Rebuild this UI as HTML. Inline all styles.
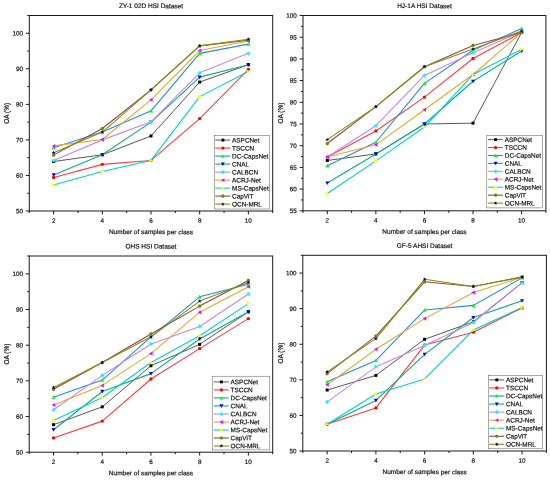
<!DOCTYPE html>
<html><head><meta charset="utf-8"><title>OA vs samples</title>
<style>html,body{margin:0;padding:0;background:#fff;}svg{display:block;filter:blur(0.3px)}text{stroke:#151515;stroke-width:0.2px;}</style></head>
<body>
<svg width="550" height="480" viewBox="0 0 550 480" font-family='"Liberation Sans", Arial, sans-serif' font-size="6.5" fill="#151515">
<g><polyline points="53.64,161.51 102.32,154.77 151.00,135.98 199.68,82.08 248.36,64.70" fill="none" stroke="#3a3a3a" stroke-width="0.85" stroke-linejoin="round"/>
<rect x="52.14" y="160.01" width="2.99" height="2.99" fill="#000000"/>
<rect x="100.82" y="153.28" width="2.99" height="2.99" fill="#000000"/>
<rect x="149.50" y="134.48" width="2.99" height="2.99" fill="#000000"/>
<rect x="198.18" y="80.58" width="2.99" height="2.99" fill="#000000"/>
<rect x="246.86" y="63.21" width="2.99" height="2.99" fill="#000000"/>
<polyline points="53.64,177.47 102.32,164.35 151.00,160.45 199.68,118.60 248.36,69.31" fill="none" stroke="#FF3B3B" stroke-width="1.1" stroke-linejoin="round"/>
<circle cx="53.64" cy="177.47" r="1.67" fill="#FF0000"/>
<circle cx="102.32" cy="164.35" r="1.67" fill="#FF0000"/>
<circle cx="151.00" cy="160.45" r="1.67" fill="#FF0000"/>
<circle cx="199.68" cy="118.60" r="1.67" fill="#FF0000"/>
<circle cx="248.36" cy="69.31" r="1.67" fill="#FF0000"/>
<polyline points="53.64,147.68 102.32,132.08 151.00,110.80 199.68,53.36 248.36,44.14" fill="none" stroke="#1E8CF0" stroke-width="1.1" stroke-linejoin="round"/>
<polygon points="53.64,145.66 51.62,149.30 55.66,149.30" fill="#00FF00"/>
<polygon points="102.32,130.05 100.30,133.70 104.34,133.70" fill="#00FF00"/>
<polygon points="151.00,108.78 148.98,112.42 153.02,112.42" fill="#00FF00"/>
<polygon points="199.68,51.33 197.66,54.98 201.70,54.98" fill="#00FF00"/>
<polygon points="248.36,42.11 246.34,45.76 250.38,45.76" fill="#00FF00"/>
<polyline points="53.64,174.99 102.32,154.77 151.00,122.15 199.68,77.12 248.36,64.70" fill="none" stroke="#0CB079" stroke-width="1.1" stroke-linejoin="round"/>
<polygon points="53.64,177.01 51.62,173.37 55.66,173.37" fill="#0000FF"/>
<polygon points="102.32,156.80 100.30,153.15 104.34,153.15" fill="#0000FF"/>
<polygon points="151.00,124.17 148.98,120.53 153.02,120.53" fill="#0000FF"/>
<polygon points="199.68,79.14 197.66,75.50 201.70,75.50" fill="#0000FF"/>
<polygon points="248.36,66.73 246.34,63.09 250.38,63.09" fill="#0000FF"/>
<polyline points="53.64,160.45 102.32,139.88 151.00,121.80 199.68,72.86 248.36,53.36" fill="none" stroke="#C985F7" stroke-width="1.1" stroke-linejoin="round"/>
<polygon points="53.64,158.33 55.75,160.45 53.64,162.56 51.53,160.45" fill="#00FFFF"/>
<polygon points="102.32,137.77 104.43,139.88 102.32,141.99 100.21,139.88" fill="#00FFFF"/>
<polygon points="151.00,119.68 153.11,121.80 151.00,123.91 148.89,121.80" fill="#00FFFF"/>
<polygon points="199.68,70.75 201.79,72.86 199.68,74.97 197.57,72.86" fill="#00FFFF"/>
<polygon points="248.36,51.25 250.47,53.36 248.36,55.47 246.25,53.36" fill="#00FFFF"/>
<polyline points="53.64,145.91 102.32,139.53 151.00,99.81 199.68,50.52 248.36,40.95" fill="none" stroke="#EBA528" stroke-width="1.1" stroke-linejoin="round"/>
<polygon points="51.62,145.91 55.26,143.88 55.26,147.93" fill="#FF00FF"/>
<polygon points="100.30,139.53 103.94,137.50 103.94,141.55" fill="#FF00FF"/>
<polygon points="148.98,99.81 152.62,97.79 152.62,101.83" fill="#FF00FF"/>
<polygon points="197.66,50.52 201.30,48.50 201.30,52.54" fill="#FF00FF"/>
<polygon points="246.34,40.95 249.98,38.92 249.98,42.97" fill="#FF00FF"/>
<polyline points="53.64,184.91 102.32,171.44 151.00,160.45 199.68,96.62 248.36,71.44" fill="none" stroke="#00D0D6" stroke-width="1.1" stroke-linejoin="round"/>
<polygon points="55.66,184.91 52.02,182.89 52.02,186.94" fill="#FFFF00"/>
<polygon points="104.34,171.44 100.70,169.42 100.70,173.46" fill="#FFFF00"/>
<polygon points="153.02,160.45 149.38,158.42 149.38,162.47" fill="#FFFF00"/>
<polygon points="201.70,96.62 198.06,94.59 198.06,98.64" fill="#FFFF00"/>
<polygon points="250.38,71.44 246.74,69.42 246.74,73.47" fill="#FFFF00"/>
<polyline points="53.64,155.13 102.32,128.53 151.00,89.88 199.68,45.91 248.36,40.24" fill="none" stroke="#8C4A4A" stroke-width="1.1" stroke-linejoin="round"/>
<polygon points="55.49,155.13 54.56,156.73 52.72,156.73 51.79,155.13 52.72,153.53 54.56,153.53" fill="#808000"/>
<polygon points="104.17,128.53 103.24,130.13 101.40,130.13 100.47,128.53 101.40,126.93 103.24,126.93" fill="#808000"/>
<polygon points="152.85,89.88 151.92,91.48 150.08,91.48 149.15,89.88 150.08,88.28 151.92,88.28" fill="#808000"/>
<polygon points="201.53,45.91 200.60,47.51 198.76,47.51 197.83,45.91 198.76,44.31 200.60,44.31" fill="#808000"/>
<polygon points="250.21,40.24 249.28,41.84 247.44,41.84 246.51,40.24 247.44,38.64 249.28,38.64" fill="#808000"/>
<polyline points="53.64,152.65 102.32,132.08 151.00,89.88 199.68,45.91 248.36,39.17" fill="none" stroke="#8C8C00" stroke-width="1.1" stroke-linejoin="round"/>
<polygon points="53.64,150.62 54.16,151.93 55.56,152.02 54.48,152.92 54.83,154.28 53.64,153.53 52.45,154.28 52.80,152.92 51.72,152.02 53.12,151.93" fill="#000080"/>
<polygon points="102.32,130.05 102.84,131.37 104.24,131.45 103.16,132.35 103.51,133.72 102.32,132.96 101.13,133.72 101.48,132.35 100.40,131.45 101.80,131.37" fill="#000080"/>
<polygon points="151.00,87.86 151.52,89.17 152.92,89.26 151.84,90.15 152.19,91.52 151.00,90.76 149.81,91.52 150.16,90.15 149.08,89.26 150.48,89.17" fill="#000080"/>
<polygon points="199.68,43.89 200.20,45.20 201.60,45.29 200.52,46.18 200.87,47.55 199.68,46.79 198.49,47.55 198.84,46.18 197.76,45.29 199.16,45.20" fill="#000080"/>
<polygon points="248.36,37.15 248.88,38.46 250.28,38.55 249.20,39.45 249.55,40.81 248.36,40.05 247.17,40.81 247.52,39.45 246.44,38.55 247.84,38.46" fill="#000080"/>
<rect x="29.3" y="15.5" width="243.40" height="195.50" fill="none" stroke="#1a1a1a" stroke-width="1"/>
<text transform="translate(23.10 213.25) rotate(0.1)" text-anchor="end" font-size="6.3">50</text>
<text transform="translate(23.10 177.70) rotate(0.1)" text-anchor="end" font-size="6.3">60</text>
<text transform="translate(23.10 142.16) rotate(0.1)" text-anchor="end" font-size="6.3">70</text>
<text transform="translate(23.10 106.61) rotate(0.1)" text-anchor="end" font-size="6.3">80</text>
<text transform="translate(23.10 71.07) rotate(0.1)" text-anchor="end" font-size="6.3">90</text>
<text transform="translate(23.10 35.52) rotate(0.1)" text-anchor="end" font-size="6.3">100</text>
<text transform="translate(53.64 222.75) rotate(0.1)" text-anchor="middle" font-size="6.3">2</text>
<text transform="translate(102.32 222.75) rotate(0.1)" text-anchor="middle" font-size="6.3">4</text>
<text transform="translate(151.00 222.75) rotate(0.1)" text-anchor="middle" font-size="6.3">6</text>
<text transform="translate(199.68 222.75) rotate(0.1)" text-anchor="middle" font-size="6.3">8</text>
<text transform="translate(248.36 222.75) rotate(0.1)" text-anchor="middle" font-size="6.3">10</text>
<path d="M29.30 211.00h-3.4 M29.30 193.23h-2.0 M29.30 175.45h-3.4 M29.30 157.68h-2.0 M29.30 139.91h-3.4 M29.30 122.14h-2.0 M29.30 104.36h-3.4 M29.30 86.59h-2.0 M29.30 68.82h-3.4 M29.30 51.05h-2.0 M29.30 33.27h-3.4 M29.30 15.50h-2.0 M29.30 211.00v2.0 M53.64 211.00v3.4 M77.98 211.00v2.0 M102.32 211.00v3.4 M126.66 211.00v2.0 M151.00 211.00v3.4 M175.34 211.00v2.0 M199.68 211.00v3.4 M224.02 211.00v2.0 M248.36 211.00v3.4 M272.70 211.00v2.0" stroke="#1a1a1a" stroke-width="1" fill="none"/>
<text transform="translate(151.00 8.10) rotate(0.1)" text-anchor="middle">ZY-1 02D HSI Dataset</text>
<text transform="translate(151.00 234.10) rotate(0.1)" text-anchor="middle">Number of samples per class</text>
<text transform="translate(9.30 113.25) rotate(-90)" text-anchor="middle">OA (%)</text>
<rect x="214.30" y="135.30" width="55.30" height="73.70" fill="#fff" stroke="#555" stroke-width="0.5"/>
<path d="M215.30 140.10h14.9" stroke="#3a3a3a" stroke-width="0.85"/>
<rect x="221.46" y="138.66" width="2.89" height="2.89" fill="#000000"/>
<text transform="translate(232.10 142.40) rotate(0.1)" font-size="6.4">ASPCNet</text>
<path d="M215.30 148.10h14.9" stroke="#FF3B3B" stroke-width="1.1"/>
<circle cx="222.90" cy="148.10" r="1.61" fill="#FF0000"/>
<text transform="translate(232.10 150.40) rotate(0.1)" font-size="6.4">TSCCN</text>
<path d="M215.30 156.10h14.9" stroke="#1E8CF0" stroke-width="1.1"/>
<polygon points="222.90,154.14 220.94,157.66 224.86,157.66" fill="#00FF00"/>
<text transform="translate(232.10 158.40) rotate(0.1)" font-size="6.4">DC-CapsNet</text>
<path d="M215.30 164.10h14.9" stroke="#0CB079" stroke-width="1.1"/>
<polygon points="222.90,166.06 220.94,162.54 224.86,162.54" fill="#0000FF"/>
<text transform="translate(232.10 166.40) rotate(0.1)" font-size="6.4">CNAL</text>
<path d="M215.30 172.10h14.9" stroke="#C985F7" stroke-width="1.1"/>
<polygon points="222.90,170.06 224.94,172.10 222.90,174.14 220.86,172.10" fill="#00FFFF"/>
<text transform="translate(232.10 174.40) rotate(0.1)" font-size="6.4">CALBCN</text>
<path d="M215.30 180.10h14.9" stroke="#EBA528" stroke-width="1.1"/>
<polygon points="220.94,180.10 224.46,178.14 224.46,182.06" fill="#FF00FF"/>
<text transform="translate(232.10 182.40) rotate(0.1)" font-size="6.4">ACRJ-Net</text>
<path d="M215.30 188.10h14.9" stroke="#00D0D6" stroke-width="1.1"/>
<polygon points="224.86,188.10 221.34,186.14 221.34,190.06" fill="#FFFF00"/>
<text transform="translate(232.10 190.40) rotate(0.1)" font-size="6.4">MS-CapsNet</text>
<path d="M215.30 196.10h14.9" stroke="#8C4A4A" stroke-width="1.1"/>
<polygon points="224.69,196.10 223.79,197.65 222.01,197.65 221.12,196.10 222.01,194.55 223.79,194.55" fill="#808000"/>
<text transform="translate(232.10 198.40) rotate(0.1)" font-size="6.4">CapViT</text>
<path d="M215.30 204.10h14.9" stroke="#8C8C00" stroke-width="1.1"/>
<polygon points="222.90,202.14 223.40,203.41 224.76,203.50 223.71,204.36 224.05,205.68 222.90,204.95 221.75,205.68 222.09,204.36 221.04,203.50 222.40,203.41" fill="#000080"/>
<text transform="translate(232.10 206.40) rotate(0.1)" font-size="6.4">OCN-MRL</text></g>
<g><polyline points="327.29,160.46 375.87,153.95 424.45,124.00 473.03,123.13 521.61,32.43" fill="none" stroke="#3a3a3a" stroke-width="0.85" stroke-linejoin="round"/>
<rect x="325.79" y="158.96" width="2.99" height="2.99" fill="#000000"/>
<rect x="374.37" y="152.45" width="2.99" height="2.99" fill="#000000"/>
<rect x="422.95" y="122.50" width="2.99" height="2.99" fill="#000000"/>
<rect x="471.53" y="121.64" width="2.99" height="2.99" fill="#000000"/>
<rect x="520.11" y="30.93" width="2.99" height="2.99" fill="#000000"/>
<polyline points="327.29,156.98 375.87,130.94 424.45,97.09 473.03,58.47 521.61,32.43" fill="none" stroke="#FF3B3B" stroke-width="1.1" stroke-linejoin="round"/>
<circle cx="327.29" cy="156.98" r="1.67" fill="#FF0000"/>
<circle cx="375.87" cy="130.94" r="1.67" fill="#FF0000"/>
<circle cx="424.45" cy="97.09" r="1.67" fill="#FF0000"/>
<circle cx="473.03" cy="58.47" r="1.67" fill="#FF0000"/>
<circle cx="521.61" cy="32.43" r="1.67" fill="#FF0000"/>
<polyline points="327.29,165.66 375.87,142.23 424.45,83.42 473.03,50.22 521.61,28.52" fill="none" stroke="#1E8CF0" stroke-width="1.1" stroke-linejoin="round"/>
<polygon points="327.29,163.64 325.27,167.28 329.31,167.28" fill="#00FF00"/>
<polygon points="375.87,140.20 373.85,143.85 377.89,143.85" fill="#00FF00"/>
<polygon points="424.45,81.40 422.43,85.04 426.47,85.04" fill="#00FF00"/>
<polygon points="473.03,48.20 471.01,51.84 475.05,51.84" fill="#00FF00"/>
<polygon points="521.61,26.50 519.59,30.14 523.63,30.14" fill="#00FF00"/>
<polyline points="327.29,183.02 375.87,153.95 424.45,124.00 473.03,81.25 521.61,51.09" fill="none" stroke="#0CB079" stroke-width="1.1" stroke-linejoin="round"/>
<polygon points="327.29,185.05 325.27,181.40 329.31,181.40" fill="#0000FF"/>
<polygon points="375.87,155.97 373.85,152.33 377.89,152.33" fill="#0000FF"/>
<polygon points="424.45,126.02 422.43,122.38 426.47,122.38" fill="#0000FF"/>
<polygon points="473.03,83.28 471.01,79.63 475.05,79.63" fill="#0000FF"/>
<polygon points="521.61,53.11 519.59,49.47 523.63,49.47" fill="#0000FF"/>
<polyline points="327.29,156.98 375.87,125.74 424.45,75.39 473.03,52.82 521.61,31.56" fill="none" stroke="#C985F7" stroke-width="1.1" stroke-linejoin="round"/>
<polygon points="327.29,154.87 329.40,156.98 327.29,159.10 325.18,156.98" fill="#00FFFF"/>
<polygon points="375.87,123.62 377.98,125.74 375.87,127.85 373.76,125.74" fill="#00FFFF"/>
<polygon points="424.45,73.28 426.56,75.39 424.45,77.50 422.34,75.39" fill="#00FFFF"/>
<polygon points="473.03,50.71 475.14,52.82 473.03,54.94 470.92,52.82" fill="#00FFFF"/>
<polygon points="521.61,29.45 523.72,31.56 521.61,33.67 519.50,31.56" fill="#00FFFF"/>
<polyline points="327.29,156.98 375.87,144.83 424.45,109.68 473.03,74.52 521.61,32.43" fill="none" stroke="#EBA528" stroke-width="1.1" stroke-linejoin="round"/>
<polygon points="325.27,156.98 328.91,154.96 328.91,159.01" fill="#FF00FF"/>
<polygon points="373.85,144.83 377.49,142.81 377.49,146.86" fill="#FF00FF"/>
<polygon points="422.43,109.68 426.07,107.65 426.07,111.70" fill="#FF00FF"/>
<polygon points="471.01,74.52 474.65,72.50 474.65,76.55" fill="#FF00FF"/>
<polygon points="519.59,32.43 523.23,30.40 523.23,34.45" fill="#FF00FF"/>
<polyline points="327.29,193.44 375.87,160.89 424.45,127.04 473.03,74.52 521.61,49.35" fill="none" stroke="#00D0D6" stroke-width="1.1" stroke-linejoin="round"/>
<polygon points="329.31,193.44 325.67,191.42 325.67,195.46" fill="#FFFF00"/>
<polygon points="377.89,160.89 374.25,158.87 374.25,162.91" fill="#FFFF00"/>
<polygon points="426.47,127.04 422.83,125.01 422.83,129.06" fill="#FFFF00"/>
<polygon points="475.05,74.52 471.41,72.50 471.41,76.55" fill="#FFFF00"/>
<polygon points="523.63,49.35 519.99,47.33 519.99,51.38" fill="#FFFF00"/>
<polyline points="327.29,143.53 375.87,106.64 424.45,66.71 473.03,45.45 521.61,32.43" fill="none" stroke="#8C4A4A" stroke-width="1.1" stroke-linejoin="round"/>
<polygon points="329.14,143.53 328.21,145.13 326.37,145.13 325.44,143.53 326.37,141.93 328.21,141.93" fill="#808000"/>
<polygon points="377.72,106.64 376.79,108.24 374.95,108.24 374.02,106.64 374.95,105.04 376.79,105.04" fill="#808000"/>
<polygon points="426.30,66.71 425.37,68.31 423.53,68.31 422.60,66.71 423.53,65.11 425.37,65.11" fill="#808000"/>
<polygon points="474.88,45.45 473.95,47.05 472.11,47.05 471.18,45.45 472.11,43.85 473.95,43.85" fill="#808000"/>
<polygon points="523.46,32.43 522.53,34.03 520.69,34.03 519.76,32.43 520.69,30.83 522.53,30.83" fill="#808000"/>
<polyline points="327.29,139.62 375.87,106.64 424.45,66.71 473.03,48.92 521.61,31.12" fill="none" stroke="#8C8C00" stroke-width="1.1" stroke-linejoin="round"/>
<polygon points="327.29,137.60 327.81,138.91 329.21,139.00 328.13,139.90 328.48,141.26 327.29,140.50 326.10,141.26 326.45,139.90 325.37,139.00 326.77,138.91" fill="#000080"/>
<polygon points="375.87,104.62 376.39,105.93 377.79,106.01 376.71,106.91 377.06,108.28 375.87,107.52 374.68,108.28 375.03,106.91 373.95,106.01 375.35,105.93" fill="#000080"/>
<polygon points="424.45,64.69 424.97,66.00 426.37,66.09 425.29,66.98 425.64,68.35 424.45,67.59 423.26,68.35 423.61,66.98 422.53,66.09 423.93,66.00" fill="#000080"/>
<polygon points="473.03,46.89 473.55,48.21 474.95,48.29 473.87,49.19 474.22,50.56 473.03,49.80 471.84,50.56 472.19,49.19 471.11,48.29 472.51,48.21" fill="#000080"/>
<polygon points="521.61,29.10 522.13,30.41 523.53,30.50 522.45,31.40 522.80,32.76 521.61,32.00 520.42,32.76 520.77,31.40 519.69,30.50 521.09,30.41" fill="#000080"/>
<rect x="303.0" y="15.5" width="242.90" height="195.30" fill="none" stroke="#1a1a1a" stroke-width="1"/>
<text transform="translate(296.80 213.05) rotate(0.1)" text-anchor="end" font-size="6.3">55</text>
<text transform="translate(296.80 191.35) rotate(0.1)" text-anchor="end" font-size="6.3">60</text>
<text transform="translate(296.80 169.65) rotate(0.1)" text-anchor="end" font-size="6.3">65</text>
<text transform="translate(296.80 147.95) rotate(0.1)" text-anchor="end" font-size="6.3">70</text>
<text transform="translate(296.80 126.25) rotate(0.1)" text-anchor="end" font-size="6.3">75</text>
<text transform="translate(296.80 104.55) rotate(0.1)" text-anchor="end" font-size="6.3">80</text>
<text transform="translate(296.80 82.85) rotate(0.1)" text-anchor="end" font-size="6.3">85</text>
<text transform="translate(296.80 61.15) rotate(0.1)" text-anchor="end" font-size="6.3">90</text>
<text transform="translate(296.80 39.45) rotate(0.1)" text-anchor="end" font-size="6.3">95</text>
<text transform="translate(296.80 17.75) rotate(0.1)" text-anchor="end" font-size="6.3">100</text>
<text transform="translate(327.29 222.55) rotate(0.1)" text-anchor="middle" font-size="6.3">2</text>
<text transform="translate(375.87 222.55) rotate(0.1)" text-anchor="middle" font-size="6.3">4</text>
<text transform="translate(424.45 222.55) rotate(0.1)" text-anchor="middle" font-size="6.3">6</text>
<text transform="translate(473.03 222.55) rotate(0.1)" text-anchor="middle" font-size="6.3">8</text>
<text transform="translate(521.61 222.55) rotate(0.1)" text-anchor="middle" font-size="6.3">10</text>
<path d="M303.00 210.80h-3.4 M303.00 199.95h-2.0 M303.00 189.10h-3.4 M303.00 178.25h-2.0 M303.00 167.40h-3.4 M303.00 156.55h-2.0 M303.00 145.70h-3.4 M303.00 134.85h-2.0 M303.00 124.00h-3.4 M303.00 113.15h-2.0 M303.00 102.30h-3.4 M303.00 91.45h-2.0 M303.00 80.60h-3.4 M303.00 69.75h-2.0 M303.00 58.90h-3.4 M303.00 48.05h-2.0 M303.00 37.20h-3.4 M303.00 26.35h-2.0 M303.00 15.50h-3.4 M303.00 210.80v2.0 M327.29 210.80v3.4 M351.58 210.80v2.0 M375.87 210.80v3.4 M400.16 210.80v2.0 M424.45 210.80v3.4 M448.74 210.80v2.0 M473.03 210.80v3.4 M497.32 210.80v2.0 M521.61 210.80v3.4 M545.90 210.80v2.0" stroke="#1a1a1a" stroke-width="1" fill="none"/>
<text transform="translate(424.45 8.10) rotate(0.1)" text-anchor="middle">HJ-1A HSI Dataset</text>
<text transform="translate(424.45 233.90) rotate(0.1)" text-anchor="middle">Number of samples per class</text>
<text transform="translate(283.00 113.15) rotate(-90)" text-anchor="middle">OA (%)</text>
<rect x="486.80" y="135.30" width="55.60" height="72.60" fill="#fff" stroke="#555" stroke-width="0.5"/>
<path d="M488.00 139.60h14.9" stroke="#3a3a3a" stroke-width="0.85"/>
<rect x="494.16" y="138.16" width="2.89" height="2.89" fill="#000000"/>
<text transform="translate(504.80 141.90) rotate(0.1)" font-size="6.4">ASPCNet</text>
<path d="M488.00 147.54h14.9" stroke="#FF3B3B" stroke-width="1.1"/>
<circle cx="495.60" cy="147.54" r="1.61" fill="#FF0000"/>
<text transform="translate(504.80 149.84) rotate(0.1)" font-size="6.4">TSCCN</text>
<path d="M488.00 155.47h14.9" stroke="#1E8CF0" stroke-width="1.1"/>
<polygon points="495.60,153.52 493.65,157.04 497.56,157.04" fill="#00FF00"/>
<text transform="translate(504.80 157.78) rotate(0.1)" font-size="6.4">DC-CapsNet</text>
<path d="M488.00 163.41h14.9" stroke="#0CB079" stroke-width="1.1"/>
<polygon points="495.60,165.37 493.65,161.85 497.56,161.85" fill="#0000FF"/>
<text transform="translate(504.80 165.71) rotate(0.1)" font-size="6.4">CNAL</text>
<path d="M488.00 171.35h14.9" stroke="#C985F7" stroke-width="1.1"/>
<polygon points="495.60,169.31 497.64,171.35 495.60,173.39 493.56,171.35" fill="#00FFFF"/>
<text transform="translate(504.80 173.65) rotate(0.1)" font-size="6.4">CALBCN</text>
<path d="M488.00 179.29h14.9" stroke="#EBA528" stroke-width="1.1"/>
<polygon points="493.65,179.29 497.16,177.33 497.16,181.24" fill="#FF00FF"/>
<text transform="translate(504.80 181.59) rotate(0.1)" font-size="6.4">ACRJ-Net</text>
<path d="M488.00 187.22h14.9" stroke="#00D0D6" stroke-width="1.1"/>
<polygon points="497.56,187.22 494.04,185.27 494.04,189.18" fill="#FFFF00"/>
<text transform="translate(504.80 189.53) rotate(0.1)" font-size="6.4">MS-CapsNet</text>
<path d="M488.00 195.16h14.9" stroke="#8C4A4A" stroke-width="1.1"/>
<polygon points="497.39,195.16 496.49,196.71 494.71,196.71 493.81,195.16 494.71,193.62 496.49,193.62" fill="#808000"/>
<text transform="translate(504.80 197.46) rotate(0.1)" font-size="6.4">CapViT</text>
<path d="M488.00 203.10h14.9" stroke="#8C8C00" stroke-width="1.1"/>
<polygon points="495.60,201.14 496.10,202.41 497.46,202.50 496.41,203.36 496.75,204.68 495.60,203.95 494.45,204.68 494.79,203.36 493.74,202.50 495.10,202.41" fill="#000080"/>
<text transform="translate(504.80 205.40) rotate(0.1)" font-size="6.4">OCN-MRL</text></g>
<g><polyline points="53.55,424.70 102.25,406.84 150.95,365.76 199.65,344.33 248.35,311.82" fill="none" stroke="#3a3a3a" stroke-width="0.85" stroke-linejoin="round"/>
<rect x="52.05" y="423.20" width="2.99" height="2.99" fill="#000000"/>
<rect x="100.75" y="405.34" width="2.99" height="2.99" fill="#000000"/>
<rect x="149.45" y="364.26" width="2.99" height="2.99" fill="#000000"/>
<rect x="198.15" y="342.83" width="2.99" height="2.99" fill="#000000"/>
<rect x="246.85" y="310.32" width="2.99" height="2.99" fill="#000000"/>
<polyline points="53.55,437.91 102.25,421.12 150.95,378.97 199.65,348.61 248.35,318.61" fill="none" stroke="#FF3B3B" stroke-width="1.1" stroke-linejoin="round"/>
<circle cx="53.55" cy="437.91" r="1.67" fill="#FF0000"/>
<circle cx="102.25" cy="421.12" r="1.67" fill="#FF0000"/>
<circle cx="150.95" cy="378.97" r="1.67" fill="#FF0000"/>
<circle cx="199.65" cy="348.61" r="1.67" fill="#FF0000"/>
<circle cx="248.35" cy="318.61" r="1.67" fill="#FF0000"/>
<polyline points="53.55,397.19 102.25,380.05 150.95,336.82 199.65,296.82 248.35,284.32" fill="none" stroke="#1E8CF0" stroke-width="1.1" stroke-linejoin="round"/>
<polygon points="53.55,395.17 51.53,398.81 55.57,398.81" fill="#00FF00"/>
<polygon points="102.25,378.02 100.23,381.66 104.27,381.66" fill="#00FF00"/>
<polygon points="150.95,334.80 148.93,338.44 152.97,338.44" fill="#00FF00"/>
<polygon points="199.65,294.79 197.63,298.44 201.67,298.44" fill="#00FF00"/>
<polygon points="248.35,282.29 246.33,285.94 250.37,285.94" fill="#00FF00"/>
<polyline points="53.55,429.70 102.25,391.48 150.95,373.62 199.65,338.97 248.35,311.82" fill="none" stroke="#0CB079" stroke-width="1.1" stroke-linejoin="round"/>
<polygon points="53.55,431.72 51.53,428.08 55.57,428.08" fill="#0000FF"/>
<polygon points="102.25,393.50 100.23,389.86 104.27,389.86" fill="#0000FF"/>
<polygon points="150.95,375.64 148.93,372.00 152.97,372.00" fill="#0000FF"/>
<polygon points="199.65,340.99 197.63,337.35 201.67,337.35" fill="#0000FF"/>
<polygon points="248.35,313.84 246.33,310.20 250.37,310.20" fill="#0000FF"/>
<polyline points="53.55,409.69 102.25,375.40 150.95,343.97 199.65,326.47 248.35,293.96" fill="none" stroke="#C985F7" stroke-width="1.1" stroke-linejoin="round"/>
<polygon points="53.55,407.58 55.66,409.69 53.55,411.81 51.44,409.69" fill="#00FFFF"/>
<polygon points="102.25,373.29 104.36,375.40 102.25,377.51 100.14,375.40" fill="#00FFFF"/>
<polygon points="150.95,341.86 153.06,343.97 150.95,346.08 148.84,343.97" fill="#00FFFF"/>
<polygon points="199.65,324.35 201.76,326.47 199.65,328.58 197.54,326.47" fill="#00FFFF"/>
<polygon points="248.35,291.85 250.46,293.96 248.35,296.07 246.24,293.96" fill="#00FFFF"/>
<polyline points="53.55,405.05 102.25,385.40 150.95,353.61 199.65,312.18 248.35,286.82" fill="none" stroke="#EBA528" stroke-width="1.1" stroke-linejoin="round"/>
<polygon points="51.53,405.05 55.17,403.03 55.17,407.07" fill="#FF00FF"/>
<polygon points="100.23,385.40 103.87,383.38 103.87,387.43" fill="#FF00FF"/>
<polygon points="148.93,353.61 152.57,351.59 152.57,355.64" fill="#FF00FF"/>
<polygon points="197.63,312.18 201.27,310.15 201.27,314.20" fill="#FF00FF"/>
<polygon points="246.33,286.82 249.97,284.79 249.97,288.84" fill="#FF00FF"/>
<polyline points="53.55,420.41 102.25,397.55 150.95,362.54 199.65,335.75 248.35,303.60" fill="none" stroke="#00D0D6" stroke-width="1.1" stroke-linejoin="round"/>
<polygon points="55.57,420.41 51.93,418.39 51.93,422.43" fill="#FFFF00"/>
<polygon points="104.27,397.55 100.63,395.52 100.63,399.57" fill="#FFFF00"/>
<polygon points="152.97,362.54 149.33,360.52 149.33,364.57" fill="#FFFF00"/>
<polygon points="201.67,335.75 198.03,333.73 198.03,337.78" fill="#FFFF00"/>
<polygon points="250.37,303.60 246.73,301.58 246.73,305.63" fill="#FFFF00"/>
<polyline points="53.55,389.33 102.25,362.54 150.95,333.97 199.65,306.11 248.35,280.39" fill="none" stroke="#8C4A4A" stroke-width="1.1" stroke-linejoin="round"/>
<polygon points="55.40,389.33 54.47,390.93 52.63,390.93 51.70,389.33 52.63,387.73 54.47,387.73" fill="#808000"/>
<polygon points="104.10,362.54 103.17,364.14 101.33,364.14 100.40,362.54 101.33,360.94 103.17,360.94" fill="#808000"/>
<polygon points="152.80,333.97 151.87,335.57 150.03,335.57 149.10,333.97 150.03,332.37 151.87,332.37" fill="#808000"/>
<polygon points="201.50,306.11 200.57,307.71 198.73,307.71 197.80,306.11 198.73,304.50 200.57,304.50" fill="#808000"/>
<polygon points="250.20,280.39 249.27,281.99 247.43,281.99 246.50,280.39 247.43,278.79 249.27,278.79" fill="#808000"/>
<polyline points="53.55,387.55 102.25,362.54 150.95,336.82 199.65,301.10 248.35,282.53" fill="none" stroke="#8C8C00" stroke-width="1.1" stroke-linejoin="round"/>
<polygon points="53.55,385.52 54.07,386.83 55.47,386.92 54.39,387.82 54.74,389.18 53.55,388.43 52.36,389.18 52.71,387.82 51.63,386.92 53.03,386.83" fill="#000080"/>
<polygon points="102.25,360.52 102.77,361.83 104.17,361.92 103.09,362.81 103.44,364.18 102.25,363.42 101.06,364.18 101.41,362.81 100.33,361.92 101.73,361.83" fill="#000080"/>
<polygon points="150.95,334.80 151.47,336.11 152.87,336.20 151.79,337.10 152.14,338.46 150.95,337.70 149.76,338.46 150.11,337.10 149.03,336.20 150.43,336.11" fill="#000080"/>
<polygon points="199.65,299.08 200.17,300.39 201.57,300.48 200.49,301.38 200.84,302.74 199.65,301.98 198.46,302.74 198.81,301.38 197.73,300.48 199.13,300.39" fill="#000080"/>
<polygon points="248.35,280.51 248.87,281.82 250.27,281.90 249.19,282.80 249.54,284.17 248.35,283.41 247.16,284.17 247.51,282.80 246.43,281.90 247.83,281.82" fill="#000080"/>
<rect x="29.2" y="256.0" width="243.50" height="196.20" fill="none" stroke="#1a1a1a" stroke-width="1"/>
<text transform="translate(23.00 454.45) rotate(0.1)" text-anchor="end" font-size="6.3">50</text>
<text transform="translate(23.00 418.78) rotate(0.1)" text-anchor="end" font-size="6.3">60</text>
<text transform="translate(23.00 383.10) rotate(0.1)" text-anchor="end" font-size="6.3">70</text>
<text transform="translate(23.00 347.43) rotate(0.1)" text-anchor="end" font-size="6.3">80</text>
<text transform="translate(23.00 311.76) rotate(0.1)" text-anchor="end" font-size="6.3">90</text>
<text transform="translate(23.00 276.09) rotate(0.1)" text-anchor="end" font-size="6.3">100</text>
<text transform="translate(53.55 463.95) rotate(0.1)" text-anchor="middle" font-size="6.3">2</text>
<text transform="translate(102.25 463.95) rotate(0.1)" text-anchor="middle" font-size="6.3">4</text>
<text transform="translate(150.95 463.95) rotate(0.1)" text-anchor="middle" font-size="6.3">6</text>
<text transform="translate(199.65 463.95) rotate(0.1)" text-anchor="middle" font-size="6.3">8</text>
<text transform="translate(248.35 463.95) rotate(0.1)" text-anchor="middle" font-size="6.3">10</text>
<path d="M29.20 452.20h-3.4 M29.20 434.36h-2.0 M29.20 416.53h-3.4 M29.20 398.69h-2.0 M29.20 380.85h-3.4 M29.20 363.02h-2.0 M29.20 345.18h-3.4 M29.20 327.35h-2.0 M29.20 309.51h-3.4 M29.20 291.67h-2.0 M29.20 273.84h-3.4 M29.20 256.00h-2.0 M29.20 452.20v2.0 M53.55 452.20v3.4 M77.90 452.20v2.0 M102.25 452.20v3.4 M126.60 452.20v2.0 M150.95 452.20v3.4 M175.30 452.20v2.0 M199.65 452.20v3.4 M224.00 452.20v2.0 M248.35 452.20v3.4 M272.70 452.20v2.0" stroke="#1a1a1a" stroke-width="1" fill="none"/>
<text transform="translate(150.95 248.60) rotate(0.1)" text-anchor="middle">OHS HSI Dataset</text>
<text transform="translate(150.95 475.30) rotate(0.1)" text-anchor="middle">Number of samples per class</text>
<text transform="translate(9.20 354.10) rotate(-90)" text-anchor="middle">OA (%)</text>
<rect x="212.20" y="376.20" width="57.60" height="73.70" fill="#fff" stroke="#555" stroke-width="0.5"/>
<path d="M213.80 381.90h14.9" stroke="#3a3a3a" stroke-width="0.85"/>
<rect x="219.96" y="380.45" width="2.89" height="2.89" fill="#000000"/>
<text transform="translate(230.60 384.20) rotate(0.1)" font-size="6.4">ASPCNet</text>
<path d="M213.80 389.91h14.9" stroke="#FF3B3B" stroke-width="1.1"/>
<circle cx="221.40" cy="389.91" r="1.61" fill="#FF0000"/>
<text transform="translate(230.60 392.21) rotate(0.1)" font-size="6.4">TSCCN</text>
<path d="M213.80 397.92h14.9" stroke="#1E8CF0" stroke-width="1.1"/>
<polygon points="221.40,395.97 219.44,399.49 223.36,399.49" fill="#00FF00"/>
<text transform="translate(230.60 400.22) rotate(0.1)" font-size="6.4">DC-CapsNet</text>
<path d="M213.80 405.94h14.9" stroke="#0CB079" stroke-width="1.1"/>
<polygon points="221.40,407.89 219.44,404.37 223.36,404.37" fill="#0000FF"/>
<text transform="translate(230.60 408.24) rotate(0.1)" font-size="6.4">CNAL</text>
<path d="M213.80 413.95h14.9" stroke="#C985F7" stroke-width="1.1"/>
<polygon points="221.40,411.91 223.44,413.95 221.40,415.99 219.36,413.95" fill="#00FFFF"/>
<text transform="translate(230.60 416.25) rotate(0.1)" font-size="6.4">CALBCN</text>
<path d="M213.80 421.96h14.9" stroke="#EBA528" stroke-width="1.1"/>
<polygon points="219.44,421.96 222.96,420.01 222.96,423.92" fill="#FF00FF"/>
<text transform="translate(230.60 424.26) rotate(0.1)" font-size="6.4">ACRJ-Net</text>
<path d="M213.80 429.98h14.9" stroke="#00D0D6" stroke-width="1.1"/>
<polygon points="223.36,429.98 219.84,428.02 219.84,431.93" fill="#FFFF00"/>
<text transform="translate(230.60 432.28) rotate(0.1)" font-size="6.4">MS-CapsNet</text>
<path d="M213.80 437.99h14.9" stroke="#8C4A4A" stroke-width="1.1"/>
<polygon points="223.19,437.99 222.29,439.53 220.51,439.53 219.62,437.99 220.51,436.44 222.29,436.44" fill="#808000"/>
<text transform="translate(230.60 440.29) rotate(0.1)" font-size="6.4">CapViT</text>
<path d="M213.80 446.00h14.9" stroke="#8C8C00" stroke-width="1.1"/>
<polygon points="221.40,444.05 221.90,445.31 223.26,445.40 222.21,446.26 222.55,447.58 221.40,446.85 220.25,447.58 220.59,446.26 219.54,445.40 220.90,445.31" fill="#000080"/>
<text transform="translate(230.60 448.30) rotate(0.1)" font-size="6.4">OCN-MRL</text></g>
<g><polyline points="327.16,390.05 375.88,375.40 424.60,339.32 473.32,321.82 522.04,282.53" fill="none" stroke="#3a3a3a" stroke-width="0.85" stroke-linejoin="round"/>
<rect x="325.66" y="388.55" width="2.99" height="2.99" fill="#000000"/>
<rect x="374.38" y="373.91" width="2.99" height="2.99" fill="#000000"/>
<rect x="423.10" y="337.83" width="2.99" height="2.99" fill="#000000"/>
<rect x="471.82" y="320.33" width="2.99" height="2.99" fill="#000000"/>
<rect x="520.54" y="281.03" width="2.99" height="2.99" fill="#000000"/>
<polyline points="327.16,424.34 375.88,407.91 424.60,345.04 473.32,332.18 522.04,307.89" fill="none" stroke="#FF3B3B" stroke-width="1.1" stroke-linejoin="round"/>
<circle cx="327.16" cy="424.34" r="1.67" fill="#FF0000"/>
<circle cx="375.88" cy="407.91" r="1.67" fill="#FF0000"/>
<circle cx="424.60" cy="345.04" r="1.67" fill="#FF0000"/>
<circle cx="473.32" cy="332.18" r="1.67" fill="#FF0000"/>
<circle cx="522.04" cy="307.89" r="1.67" fill="#FF0000"/>
<polyline points="327.16,381.83 375.88,360.40 424.60,310.03 473.32,305.39 522.04,277.89" fill="none" stroke="#1E8CF0" stroke-width="1.1" stroke-linejoin="round"/>
<polygon points="327.16,379.81 325.14,383.45 329.18,383.45" fill="#00FF00"/>
<polygon points="375.88,358.38 373.86,362.02 377.90,362.02" fill="#00FF00"/>
<polygon points="424.60,308.01 422.58,311.65 426.62,311.65" fill="#00FF00"/>
<polygon points="473.32,303.37 471.30,307.01 475.34,307.01" fill="#00FF00"/>
<polygon points="522.04,275.86 520.02,279.51 524.06,279.51" fill="#00FF00"/>
<polyline points="327.16,424.34 375.88,400.41 424.60,354.33 473.32,317.54 522.04,300.75" fill="none" stroke="#0CB079" stroke-width="1.1" stroke-linejoin="round"/>
<polygon points="327.16,426.36 325.14,422.72 329.18,422.72" fill="#0000FF"/>
<polygon points="375.88,402.43 373.86,398.79 377.90,398.79" fill="#0000FF"/>
<polygon points="424.60,356.35 422.58,352.71 426.62,352.71" fill="#0000FF"/>
<polygon points="473.32,319.56 471.30,315.92 475.34,315.92" fill="#0000FF"/>
<polygon points="522.04,302.77 520.02,299.13 524.06,299.13" fill="#0000FF"/>
<polyline points="327.16,401.83 375.88,366.83 424.60,345.40 473.32,322.54 522.04,282.89" fill="none" stroke="#C985F7" stroke-width="1.1" stroke-linejoin="round"/>
<polygon points="327.16,399.72 329.27,401.83 327.16,403.95 325.05,401.83" fill="#00FFFF"/>
<polygon points="375.88,364.72 377.99,366.83 375.88,368.94 373.77,366.83" fill="#00FFFF"/>
<polygon points="424.60,343.29 426.71,345.40 424.60,347.51 422.49,345.40" fill="#00FFFF"/>
<polygon points="473.32,320.42 475.43,322.54 473.32,324.65 471.21,322.54" fill="#00FFFF"/>
<polygon points="522.04,280.78 524.15,282.89 522.04,285.00 519.93,282.89" fill="#00FFFF"/>
<polyline points="327.16,384.69 375.88,349.33 424.60,318.61 473.32,292.53 522.04,277.35" fill="none" stroke="#EBA528" stroke-width="1.1" stroke-linejoin="round"/>
<polygon points="325.14,384.69 328.78,382.67 328.78,386.71" fill="#FF00FF"/>
<polygon points="373.86,349.33 377.50,347.30 377.50,351.35" fill="#FF00FF"/>
<polygon points="422.58,318.61 426.22,316.58 426.22,320.63" fill="#FF00FF"/>
<polygon points="471.30,292.53 474.94,290.51 474.94,294.56" fill="#FF00FF"/>
<polygon points="520.02,277.35 523.66,275.33 523.66,279.37" fill="#FF00FF"/>
<polyline points="327.16,424.34 375.88,393.98 424.60,378.97 473.32,330.04 522.04,307.53" fill="none" stroke="#00D0D6" stroke-width="1.1" stroke-linejoin="round"/>
<polygon points="329.18,424.34 325.54,422.31 325.54,426.36" fill="#FFFF00"/>
<polygon points="377.90,393.98 374.26,391.95 374.26,396.00" fill="#FFFF00"/>
<polygon points="426.62,378.97 422.98,376.95 422.98,381.00" fill="#FFFF00"/>
<polygon points="475.34,330.04 471.70,328.01 471.70,332.06" fill="#FFFF00"/>
<polygon points="524.06,307.53 520.42,305.51 520.42,309.56" fill="#FFFF00"/>
<polyline points="327.16,373.62 375.88,336.11 424.60,281.82 473.32,286.46 522.04,277.17" fill="none" stroke="#8C4A4A" stroke-width="1.1" stroke-linejoin="round"/>
<polygon points="329.01,373.62 328.08,375.22 326.24,375.22 325.31,373.62 326.24,372.02 328.08,372.02" fill="#808000"/>
<polygon points="377.73,336.11 376.80,337.71 374.96,337.71 374.03,336.11 374.96,334.51 376.80,334.51" fill="#808000"/>
<polygon points="426.45,281.82 425.52,283.42 423.68,283.42 422.75,281.82 423.68,280.22 425.52,280.22" fill="#808000"/>
<polygon points="475.17,286.46 474.24,288.06 472.40,288.06 471.47,286.46 472.40,284.86 474.24,284.86" fill="#808000"/>
<polygon points="523.89,277.17 522.96,278.77 521.12,278.77 520.19,277.17 521.12,275.57 522.96,275.57" fill="#808000"/>
<polyline points="327.16,371.83 375.88,338.61 424.60,279.32 473.32,286.46 522.04,276.81" fill="none" stroke="#8C8C00" stroke-width="1.1" stroke-linejoin="round"/>
<polygon points="327.16,369.81 327.68,371.12 329.08,371.20 328.00,372.10 328.35,373.47 327.16,372.71 325.97,373.47 326.32,372.10 325.24,371.20 326.64,371.12" fill="#000080"/>
<polygon points="375.88,336.59 376.40,337.90 377.80,337.98 376.72,338.88 377.07,340.25 375.88,339.49 374.69,340.25 375.04,338.88 373.96,337.98 375.36,337.90" fill="#000080"/>
<polygon points="424.60,277.29 425.12,278.60 426.52,278.69 425.44,279.59 425.79,280.95 424.60,280.20 423.41,280.95 423.76,279.59 422.68,278.69 424.08,278.60" fill="#000080"/>
<polygon points="473.32,284.44 473.84,285.75 475.24,285.83 474.16,286.73 474.51,288.10 473.32,287.34 472.13,288.10 472.48,286.73 471.40,285.83 472.80,285.75" fill="#000080"/>
<polygon points="522.04,274.79 522.56,276.10 523.96,276.19 522.88,277.09 523.23,278.45 522.04,277.69 520.85,278.45 521.20,277.09 520.12,276.19 521.52,276.10" fill="#000080"/>
<rect x="302.8" y="255.3" width="243.60" height="195.70" fill="none" stroke="#1a1a1a" stroke-width="1"/>
<text transform="translate(296.60 453.25) rotate(0.1)" text-anchor="end" font-size="6.3">50</text>
<text transform="translate(296.60 417.67) rotate(0.1)" text-anchor="end" font-size="6.3">60</text>
<text transform="translate(296.60 382.09) rotate(0.1)" text-anchor="end" font-size="6.3">70</text>
<text transform="translate(296.60 346.50) rotate(0.1)" text-anchor="end" font-size="6.3">80</text>
<text transform="translate(296.60 310.92) rotate(0.1)" text-anchor="end" font-size="6.3">90</text>
<text transform="translate(296.60 275.34) rotate(0.1)" text-anchor="end" font-size="6.3">100</text>
<text transform="translate(327.16 462.75) rotate(0.1)" text-anchor="middle" font-size="6.3">2</text>
<text transform="translate(375.88 462.75) rotate(0.1)" text-anchor="middle" font-size="6.3">4</text>
<text transform="translate(424.60 462.75) rotate(0.1)" text-anchor="middle" font-size="6.3">6</text>
<text transform="translate(473.32 462.75) rotate(0.1)" text-anchor="middle" font-size="6.3">8</text>
<text transform="translate(522.04 462.75) rotate(0.1)" text-anchor="middle" font-size="6.3">10</text>
<path d="M302.80 451.00h-3.4 M302.80 433.21h-2.0 M302.80 415.42h-3.4 M302.80 397.63h-2.0 M302.80 379.84h-3.4 M302.80 362.05h-2.0 M302.80 344.25h-3.4 M302.80 326.46h-2.0 M302.80 308.67h-3.4 M302.80 290.88h-2.0 M302.80 273.09h-3.4 M302.80 255.30h-2.0 M302.80 451.00v2.0 M327.16 451.00v3.4 M351.52 451.00v2.0 M375.88 451.00v3.4 M400.24 451.00v2.0 M424.60 451.00v3.4 M448.96 451.00v2.0 M473.32 451.00v3.4 M497.68 451.00v2.0 M522.04 451.00v3.4 M546.40 451.00v2.0" stroke="#1a1a1a" stroke-width="1" fill="none"/>
<text transform="translate(424.60 247.90) rotate(0.1)" text-anchor="middle">GF-5 AHSI Dataset</text>
<text transform="translate(424.60 474.10) rotate(0.1)" text-anchor="middle">Number of samples per class</text>
<text transform="translate(282.80 353.15) rotate(-90)" text-anchor="middle">OA (%)</text>
<rect x="488.30" y="375.30" width="54.30" height="73.50" fill="#fff" stroke="#555" stroke-width="0.5"/>
<path d="M489.20 379.90h14.9" stroke="#3a3a3a" stroke-width="0.85"/>
<rect x="495.36" y="378.45" width="2.89" height="2.89" fill="#000000"/>
<text transform="translate(506.00 382.20) rotate(0.1)" font-size="6.4">ASPCNet</text>
<path d="M489.20 387.95h14.9" stroke="#FF3B3B" stroke-width="1.1"/>
<circle cx="496.80" cy="387.95" r="1.61" fill="#FF0000"/>
<text transform="translate(506.00 390.25) rotate(0.1)" font-size="6.4">TSCCN</text>
<path d="M489.20 396.00h14.9" stroke="#1E8CF0" stroke-width="1.1"/>
<polygon points="496.80,394.05 494.85,397.56 498.75,397.56" fill="#00FF00"/>
<text transform="translate(506.00 398.30) rotate(0.1)" font-size="6.4">DC-CapsNet</text>
<path d="M489.20 404.05h14.9" stroke="#0CB079" stroke-width="1.1"/>
<polygon points="496.80,406.00 494.85,402.49 498.75,402.49" fill="#0000FF"/>
<text transform="translate(506.00 406.35) rotate(0.1)" font-size="6.4">CNAL</text>
<path d="M489.20 412.10h14.9" stroke="#C985F7" stroke-width="1.1"/>
<polygon points="496.80,410.06 498.84,412.10 496.80,414.14 494.76,412.10" fill="#00FFFF"/>
<text transform="translate(506.00 414.40) rotate(0.1)" font-size="6.4">CALBCN</text>
<path d="M489.20 420.15h14.9" stroke="#EBA528" stroke-width="1.1"/>
<polygon points="494.85,420.15 498.36,418.19 498.36,422.10" fill="#FF00FF"/>
<text transform="translate(506.00 422.45) rotate(0.1)" font-size="6.4">ACRJ-Net</text>
<path d="M489.20 428.20h14.9" stroke="#00D0D6" stroke-width="1.1"/>
<polygon points="498.75,428.20 495.24,426.25 495.24,430.15" fill="#FFFF00"/>
<text transform="translate(506.00 430.50) rotate(0.1)" font-size="6.4">MS-CapsNet</text>
<path d="M489.20 436.25h14.9" stroke="#8C4A4A" stroke-width="1.1"/>
<polygon points="498.59,436.25 497.69,437.80 495.91,437.80 495.01,436.25 495.91,434.70 497.69,434.70" fill="#808000"/>
<text transform="translate(506.00 438.55) rotate(0.1)" font-size="6.4">CapViT</text>
<path d="M489.20 444.30h14.9" stroke="#8C8C00" stroke-width="1.1"/>
<polygon points="496.80,442.35 497.30,443.61 498.66,443.70 497.61,444.56 497.95,445.88 496.80,445.15 495.65,445.88 495.99,444.56 494.94,443.70 496.30,443.61" fill="#000080"/>
<text transform="translate(506.00 446.60) rotate(0.1)" font-size="6.4">OCN-MRL</text></g>
</svg>
</body></html>
